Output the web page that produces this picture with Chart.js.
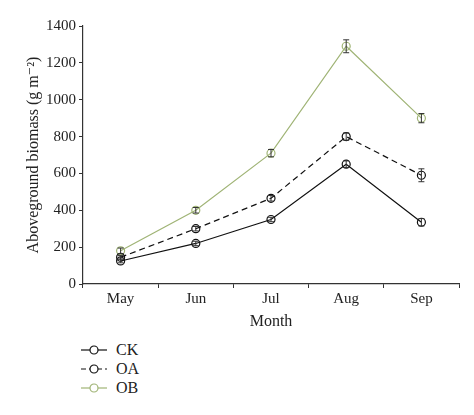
<!DOCTYPE html>
<html>
<head>
<meta charset="utf-8">
<script src="https://cdn.jsdelivr.net/npm/chart.js@4.4.1/dist/chart.umd.min.js"></script>
<style>
  body { margin: 0; background: #fff; }
  #wrap { position: relative; width: 474px; height: 415px; }
  #box { position: absolute; left: 0; top: 0; width: 474px; height: 335px; }
  #legend { position: absolute; left: 80px; top: 340px; font-family: "Liberation Serif", "DejaVu Serif", serif; font-size: 16px; color: #222; }
  .row { height: 19px; display: flex; align-items: center; }
  .row svg { margin-right: 8px; }
</style>
</head>
<body>
<div id="wrap">
  <div id="box"><canvas id="chart"></canvas></div>
  <div id="legend"></div>
</div>
<script>
const months = ["May", "Jun", "Jul", "Aug", "Sep"];
const ck = [125, 220, 350, 650, 335];
const oa = [145, 300, 465, 800, 590];
const ob = [180, 400, 710, 1290, 900];
const ckErr = [10, 12, 12, 18, 20];
const oaErr = [10, 12, 15, 20, 35];
const obErr = [15, 15, 20, 35, 25];
const seriesNames = ["CK", "OA", "OB"];

const serif = "'Liberation Serif', 'DejaVu Serif', serif";
const green = "#a0b476";

// error bars drawn from the y scale
const errorBars = {
  id: "errorBars",
  afterDatasetsDraw(chart) {
    const ctx = chart.ctx;
    const y = chart.scales.y;
    chart.data.datasets.forEach(function(ds, i) {
      const meta = chart.getDatasetMeta(i);
      ctx.save();
      ctx.strokeStyle = "#333";
      ctx.lineWidth = 1;
      meta.data.forEach(function(pt, j) {
        const top = y.getPixelForValue(ds.data[j] + ds.err[j]);
        const bot = y.getPixelForValue(ds.data[j] - ds.err[j]);
        ctx.beginPath();
        ctx.moveTo(pt.x, top); ctx.lineTo(pt.x, bot);
        ctx.moveTo(pt.x - 3, top); ctx.lineTo(pt.x + 3, top);
        ctx.moveTo(pt.x - 3, bot); ctx.lineTo(pt.x + 3, bot);
        ctx.stroke();
      });
      ctx.restore();
    });
  }
};

let chart = new Chart(document.getElementById("chart"), {
  type: "line",
  data: {
    labels: months,
    datasets: [
      { label: seriesNames[0], data: ck, err: ckErr, borderColor: "#111", borderWidth: 1.2,
        pointBackgroundColor: "rgba(255,255,255,0)", pointBorderColor: "#111", pointRadius: 4, pointBorderWidth: 1.2 },
      { label: seriesNames[1], data: oa, err: oaErr, borderColor: "#111", borderWidth: 1.2, borderDash: [6, 4],
        pointBackgroundColor: "rgba(255,255,255,0)", pointBorderColor: "#111", pointRadius: 4, pointBorderWidth: 1.2 },
      { label: seriesNames[2], data: ob, err: obErr, borderColor: green, borderWidth: 1.2,
        pointBackgroundColor: "rgba(255,255,255,0)", pointBorderColor: green, pointRadius: 4, pointBorderWidth: 1.2 }
    ]
  },
  options: {
    responsive: true,
    maintainAspectRatio: false,
    animation: false,
    layout: { padding: { top: 26, right: 15, left: 20, bottom: 0 } },
    plugins: { legend: { display: false }, tooltip: { enabled: false } },
    scales: {
      x: {
        offset: true,
        grid: { offset: true, drawOnChartArea: false, tickLength: 4, color: "#333" },
        border: { color: "#333", width: 1.2 },
        ticks: { color: "#222", font: { family: serif, size: 15 }, padding: 2 },
        title: { display: true, text: "Month", color: "#222", font: { family: serif, size: 16 }, padding: { top: 1 } },
        afterFit(s) { s.height = 51; }
      },
      y: {
        min: 0, max: 1400,
        ticks: { stepSize: 200, color: "#222", font: { family: serif, size: 15 }, padding: 3,
          callback: function(v) { return String(v); } },
        grid: { drawOnChartArea: false, tickLength: 4, color: "#333" },
        border: { color: "#333", width: 1.2 },
        title: { display: true, text: "Aboveground biomass (g m⁻²)", color: "#222", font: { family: serif, size: 16 } },
        afterFit(s) { s.width = 63; }
      }
    }
  },
  plugins: [errorBars]
});

// legend below the chart
const legend = document.getElementById("legend");
chart.data.datasets.forEach(function(ds) {
  const row = document.createElement("div");
  row.className = "row";
  const dash = ds.borderDash ? ' stroke-dasharray="5,3"' : "";
  row.innerHTML = '<svg width="28" height="12"><line x1="1" y1="6" x2="27" y2="6" stroke="' + ds.borderColor + '" stroke-width="1.2"' + dash + '/>' +
    '<circle cx="14" cy="6" r="4" fill="#fff" stroke="' + ds.borderColor + '" stroke-width="1.2"/></svg><span>' + ds.label + '</span>';
  legend.appendChild(row);
});
</script>
</body>
</html>
